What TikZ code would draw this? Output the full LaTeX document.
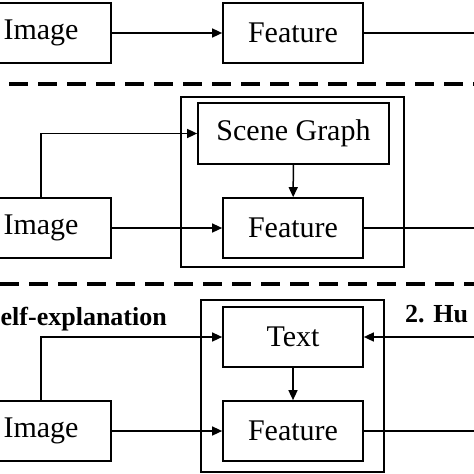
\documentclass[tikz,border=0pt]{standalone}
\usepackage{fontspec}
\setmainfont{Liberation Serif}
\usetikzlibrary{arrows.meta}

\begin{document}
\begin{tikzpicture}[
  x=1pt, y=-1pt,
  box/.style={draw, line width=1.7pt, minimum width=140pt, minimum height=60pt,
    inner sep=0pt, font=\fontsize{30}{30}\selectfont},
  frame/.style={draw, line width=1.7pt, inner sep=0pt},
  link/.style={line width=1.5pt, -{Triangle[length=10pt,width=9pt]}},
  wire/.style={line width=1.5pt},
  sep/.style={line width=4pt, dash pattern=on 19pt off 10pt},
  tag/.style={font=\fontsize{26}{26}\selectfont\bfseries, inner sep=0pt},
  ]
\useasboundingbox (0,0) rectangle (474,474);
\clip (0,0) rectangle (474,474);

% row 1
\node[box] (img1) at (41,33) {Image};
\node[box] (feat1) at (293,33) {Feature};
\coordinate (out1) at (474,33);
\draw[link] (img1) -- (feat1);
\draw[wire] (feat1) -- (out1);

\draw[sep] (9,84) -- (480,84);

% row 2
\node[frame, minimum width=223pt, minimum height=170pt] (frame2) at (292.5,182) {};
\node[box, minimum width=191pt, minimum height=61pt] (sg) at (293.5,133.5) {Scene Graph};
\node[box] (img2) at (41,228) {Image};
\node[box] (feat2) at (293,228) {Feature};
\coordinate (out2) at (474,228);
\draw[link] (img2.north) |- (sg.west);
\draw[link] (sg) -- (feat2);
\draw[link] (img2) -- (feat2);
\draw[wire] (feat2) -- (out2);

\draw[sep] (0,284) -- (480,284);

% row 3
\node[frame, minimum width=183pt, minimum height=172pt] (frame3) at (292.5,386) {};
\node[box] (txt) at (293,337) {Text};
\node[box] (img3) at (41,431) {Image};
\node[box] (feat3) at (293,431) {Feature};
\coordinate (in3) at (474,337);
\coordinate (out3) at (474,431);
\draw[link] (img3.north) |- (txt.west);
\draw[link] (in3) -- (txt.east);
\draw[link] (txt) -- (feat3);
\draw[link] (img3) -- (feat3);
\draw[wire] (feat3) -- (out3);

\node[tag, anchor=base east] (self) at (167,325) {elf-explanation};
\node[tag, anchor=base west] (human) at (405,322) {2. Hu};

\end{tikzpicture}
\end{document}
